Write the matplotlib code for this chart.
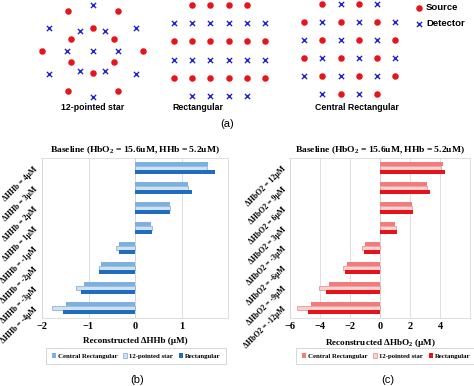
import matplotlib
matplotlib.use("Agg")
import matplotlib.pyplot as plt
from matplotlib.patches import Patch

plt.rcParams['mathtext.fontset'] = 'custom'
plt.rcParams['mathtext.rm'] = 'Liberation Serif:bold'
plt.rcParams['mathtext.bf'] = 'Liberation Serif:bold'
plt.rcParams['mathtext.default'] = 'rm'

W, H = 474, 386

# ---------------- Panel (a) layout data ----------------
star_src_dx = [-25, 25, 0, -22, 21, -51, 50, -22, 21, 0, -25, 25]
star_src_dy = [-40, -40, -23, -12, -12, 0, 0, 11, 11, 22, 40, 40]
star_det_dx = [0, -44, -13, 12, 43, -26, 0, 25, -44, -13, 12, 43, 0]
star_det_dy = [-46, -23, -20, -20, -23, 0, 0, 0, 23, 20, 20, 23, 46]

rect_src_col = [1, 2, 3, 4, 0, 1, 2, 3, 4, 5, 0, 1, 2, 3, 4, 5]
rect_src_row = [0, 0, 0, 0, 2, 2, 2, 2, 2, 2, 4, 4, 4, 4, 4, 4]
rect_det_col = [0, 1, 2, 3, 4, 5, 0, 1, 2, 3, 4, 5, 1, 2, 3, 4]
rect_det_row = [1, 1, 1, 1, 1, 1, 3, 3, 3, 3, 3, 3, 5, 5, 5, 5]

crect_src_col = [1, 3, 0, 2, 4, 1, 3, 5, 0, 2, 4, 1, 3, 5, 2, 4]
crect_src_row = [0, 0, 1, 1, 1, 2, 2, 2, 3, 3, 3, 4, 4, 4, 5, 5]
crect_det_col = [2, 4, 1, 3, 5, 0, 2, 4, 1, 3, 5, 0, 2, 4, 1, 3]
crect_det_row = [0, 0, 1, 1, 1, 2, 2, 2, 3, 3, 3, 4, 4, 4, 5, 5]

layout_names = ['12-pointed star', 'Rectangular', 'Central Rectangular']

# ---------------- Panel (b) data ----------------
hhb_labels = ['ΔHHb = 4µM', 'ΔHHb = 3µM', 'ΔHHb = 2µM', 'ΔHHb = 1µM',
              'ΔHHb = -1µM', 'ΔHHb = -2µM', 'ΔHHb = -3µM', 'ΔHHb = -4µM']
hhb_central = [1.57, 1.15, 0.75, 0.35, -0.34, -0.73, -1.09, -1.48]
hhb_star = [1.54, 1.13, 0.76, 0.36, -0.40, -0.78, -1.27, -1.79]
hhb_rect = [1.72, 1.23, 0.76, 0.37, -0.34, -0.78, -1.16, -1.55]

# ---------------- Panel (c) data ----------------
hbo_labels = ['ΔHbO2 = 12µM', 'ΔHbO2 = 9µM', 'ΔHbO2 = 6µM', 'ΔHbO2 = 3µM',
              'ΔHbO2 = -3µM', 'ΔHbO2 = -6µM', 'ΔHbO2 = -9µM', 'ΔHbO2 = -12µM']
hbo_central = [4.18, 3.10, 2.11, 1.01, -1.03, -2.20, -3.41, -4.57]
hbo_star = [4.09, 3.16, 2.15, 1.05, -1.19, -2.46, -4.07, -5.56]
hbo_rect = [4.35, 3.34, 2.20, 1.10, -1.10, -2.33, -3.58, -4.77]

series_names = ['Central Rectangular', '12-pointed star', 'Rectangular']

fig = plt.figure(figsize=(W / 100, H / 100), dpi=100)


def px_axes(x0, y0, x1, y1):
    return fig.add_axes([x0 / W, 1 - y1 / H, (x1 - x0) / W, (y1 - y0) / H])


# ---------------- Panel (a) ----------------
ax_a = px_axes(0, 0, W, 130)
ax_a.set_xlim(0, W)
ax_a.set_ylim(130, 0)
ax_a.axis('off')

RED = '#e8141c'
BLUE = '#2424c8'
s_src, s_det = 22, 14

cx, cy = 93, 51
ax_a.scatter([cx + d for d in star_src_dx], [cy + d for d in star_src_dy],
             s=s_src, c=RED, lw=0)
ax_a.scatter([cx + d for d in star_det_dx], [cy + d for d in star_det_dy],
             s=s_det, c=BLUE, marker='x', lw=1.0)

ox, oy, sx, sy = 173.7, 5, 18.3, 18.2
ax_a.scatter([ox + c * sx for c in rect_src_col], [oy + r * sy for r in rect_src_row],
             s=s_src, c=RED, lw=0)
ax_a.scatter([ox + c * sx for c in rect_det_col], [oy + r * sy for r in rect_det_row],
             s=s_det, c=BLUE, marker='x', lw=1.0)

ox, oy, sx, sy = 304, 4, 18.3, 18.0
ax_a.scatter([ox + c * sx for c in crect_src_col], [oy + r * sy for r in crect_src_row],
             s=s_src, c=RED, lw=0)
ax_a.scatter([ox + c * sx for c in crect_det_col], [oy + r * sy for r in crect_det_row],
             s=s_det, c=BLUE, marker='x', lw=1.0)

sans = 'Liberation Sans'
for name, x in zip(layout_names, [93, 198, 357]):
    ax_a.text(x, 108, name, ha='center', va='center', fontsize=6.3,
              fontweight='bold', family=sans)

ax_a.scatter([419], [8], s=s_src, c=RED, lw=0)
ax_a.scatter([419], [24], s=s_det, c=BLUE, marker='x', lw=1.0)
ax_a.text(426, 8, 'Source', ha='left', va='center', fontsize=6.8,
          fontweight='bold', family=sans)
ax_a.text(426, 24, 'Detector', ha='left', va='center', fontsize=6.8,
          fontweight='bold', family=sans)
ax_a.text(227, 124, '(a)', ha='center', va='center', fontsize=8, family=sans)

# ---------------- bar panels ----------------
serif = 'Liberation Serif'


def bar_panel(ax, labels, central, star, rect, colors, xlim, ticks, xlabel):
    n = len(labels)
    ys = list(range(n))
    h = 0.2
    ax.barh([y - h for y in ys], central, height=h, color=colors[0], lw=0)
    ax.barh(ys, star, height=h, color=colors[1], edgecolor=colors[3], lw=0.5)
    ax.barh([y + h for y in ys], rect, height=h, color=colors[2], lw=0)
    ax.set_ylim(n - 0.5, -0.5)
    ax.set_xlim(*xlim)
    ax.set_xticks(ticks)
    ax.set_xticklabels([('\u2212' + str(abs(t))) if t < 0 else str(t) for t in ticks],
                       fontsize=7.5, fontweight='bold', family=serif)
    ax.set_yticks(ys)
    ax.set_yticklabels(labels, rotation=45, ha='right', va='center',
                       rotation_mode='anchor', fontsize=5.6,
                       fontweight='bold', family=serif)
    ax.tick_params(length=0, pad=3)
    ax.tick_params(axis='y', pad=4)
    ax.grid(axis='x', color='#d9d9d9', lw=0.6)
    ax.set_axisbelow(True)
    for sp in ax.spines.values():
        sp.set_color('#d9d9d9')
        sp.set_linewidth(0.6)
    ax.axvline(0, color='#bfbfbf', lw=0.6, zorder=0.5)
    ax.set_xlabel(xlabel, fontsize=6.6, fontweight='bold', family=serif, labelpad=4)
    ax.set_title('Baseline (HbO$_2$ = 15.6uM, HHb = 5.2uM)', fontsize=6.8,
                 fontweight='bold', family=serif, pad=4)


blue_cols = ['#7cb0de', '#cfe1f3', '#1f6dbf', '#7ea6cf']
red_cols = ['#f07c7c', '#f9d0d0', '#e8121a', '#e08a8a']

ax_b = px_axes(42, 158, 228, 318)
bar_panel(ax_b, hhb_labels, hhb_central, hhb_star, hhb_rect, blue_cols,
          (-2, 2), [-2, -1, 0, 1], 'Reconstructed ΔHHb (µM)')

ax_c = px_axes(290, 158, 470, 318)
bar_panel(ax_c, hbo_labels, hbo_central, hbo_star, hbo_rect, red_cols,
          (-6, 6), [-6, -4, -2, 0, 2, 4], 'Reconstructed ΔHbO$_2$ (µM)')


def add_legend(colors, cx):
    handles = [Patch(facecolor=colors[0], lw=0),
               Patch(facecolor=colors[1], edgecolor=colors[3], lw=0.5),
               Patch(facecolor=colors[2], lw=0)]
    leg = fig.legend(handles, series_names, loc='center',
                     bbox_to_anchor=(cx / W, 1 - 356 / H), ncol=3,
                     prop={'family': serif, 'weight': 'bold', 'size': 4.9},
                     handlelength=0.6, handleheight=0.6, handletextpad=0.25,
                     columnspacing=0.9, borderpad=0.8, fancybox=False,
                     edgecolor='#d0d0d0', framealpha=1)
    leg.get_frame().set_linewidth(0.6)


add_legend(blue_cols, 136)
add_legend(red_cols, 386)

fig.text(137 / W, 1 - 380 / H, '(b)', ha='center', va='center', fontsize=8, family=sans)
fig.text(388 / W, 1 - 380 / H, '(c)', ha='center', va='center', fontsize=8, family=sans)

fig.savefig('out.png', dpi=100)
